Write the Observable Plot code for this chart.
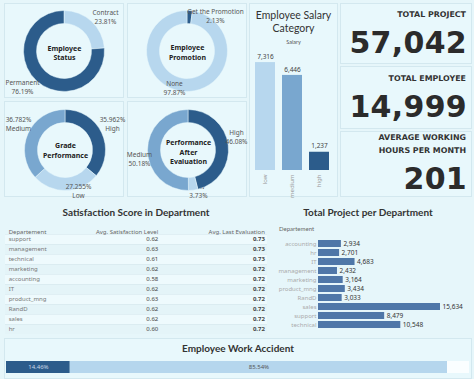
<!DOCTYPE html>
<html><head><meta charset="utf-8">
<script src="https://cdn.jsdelivr.net/npm/d3@7"></script>
<script src="https://cdn.jsdelivr.net/npm/@observablehq/plot@0.6"></script>
<style>
html,body{margin:0;padding:0;background:#e6f6fa;}
#root{position:relative;width:474px;height:379px;overflow:hidden;font-family:Lato,"Noto Sans",sans-serif;color:#333;background:#e6f6fa;}
#root svg{position:absolute;background:transparent;overflow:visible;}
</style></head><body><div id="root"></div>
<script>
// ---------- data ----------
const statusCats = ["Contract", "Permanent"];
const statusVals = [23.81, 76.19];
const promoCats = ["Get the Promotion", "None"];
const promoVals = [2.13, 97.87];
const gradeCats = ["High", "Low", "Medium"];
const gradeVals = [35.962, 27.255, 36.782];
const evalCats = ["High", "Low", "Medium"];
const evalVals = [46.08, 3.73, 50.18];
const salaryCats = ["low", "medium", "high"];
const salaryVals = [7316, 6446, 1237];
const kpiLabels = ["TOTAL PROJECT", "TOTAL EMPLOYEE", "AVERAGE WORKING\nHOURS PER MONTH"];
const kpiVals = [57042, 14999, 201];
const satDepts = ["support", "management", "technical", "marketing", "accounting", "IT", "product_mng", "RandD", "sales", "hr"];
const satLevel = [0.62, 0.63, 0.61, 0.62, 0.58, 0.62, 0.63, 0.62, 0.62, 0.60];
const lastEval = [0.73, 0.73, 0.73, 0.72, 0.72, 0.72, 0.72, 0.72, 0.72, 0.72];
const satHeaders = ["Departement", "Avg. Satisfaction Level", "Avg. Last Evaluation"];
const projDepts = ["accounting", "hr", "IT", "management", "marketing", "product_mng", "RandD", "sales", "support", "technical"];
const projVals = [2934, 2701, 4683, 2432, 3164, 3434, 3033, 15634, 8479, 10548];
const accidentCats = ["Accident", "No Accident"];
const accidentVals = [14.46, 85.54];

// ---------- helpers ----------
const root = document.getElementById("root");
const COL = {dark: "#2c5c8b", mid: "#79a7cf", light: "#b7d7ee", bar: "#4f77a8"};
function put(el, left, top) { el.style.left = left + "px"; el.style.top = top + "px"; root.appendChild(el); return el; }
function box(left, top, w, h, css = "") {
  const d = document.createElement("div");
  d.style.cssText = `position:absolute;left:${left}px;top:${top}px;width:${w}px;height:${h}px;box-sizing:border-box;border:1px solid #d3e8ef;background:#e8f8fc;` + css;
  root.appendChild(d); return d;
}
function label(text, css) {
  const d = document.createElement("div");
  d.textContent = text;
  d.style.cssText = "position:absolute;white-space:pre;" + css;
  root.appendChild(d); return d;
}

// ---------- panels ----------
box(4, 3, 120, 95); box(127, 3, 120, 95);
box(4, 101, 120, 96); box(127, 101, 120, 96);
box(249, 3, 89, 194);
box(340, 3, 132, 61); box(340, 66, 132, 63); box(340, 131, 132, 66);
box(4, 338, 468, 41);

// ---------- donuts ----------
function donut(cfg) {
  const data = cfg.cats.map((k, i) => ({k, v: cfg.vals[i], fill: cfg.fills[i]}));
  const ring = (index, scales, values, dims) => {
    const g = d3.create("svg:g").attr("transform", `translate(${cfg.cx},${cfg.cy})`);
    const arcs = d3.pie().sort(null).value(d => d.v)(data);
    const arc = d3.arc().innerRadius(27.5).outerRadius(40.5);
    g.selectAll("path").data(arcs).join("path")
      .attr("d", arc).attr("fill", d => d.data.fill)
      .attr("stroke", "#e8f8fc").attr("stroke-width", 0.5);
    return g.node();
  };
  const labs = cfg.labels.map(l => {
    const d = data[l.i];
    const pct = d.v.toFixed(cfg.dec) + "%";
    return {x: l.x, y: l.y, under: !!l.under, t: l.pctFirst ? pct + "\n" + d.k : d.k + "\n" + pct};
  });
  const opts = {x: "x", y: "y", text: "t", fontSize: 6.5, fill: "#555", lineHeight: 1.35, lineAnchor: "middle"};
  const svg = Plot.plot({
    width: 120, height: 95, margin: 0,
    x: {type: "identity", axis: null}, y: {type: "identity", axis: null},
    style: {background: "transparent"},
    marks: [
      Plot.text(labs.filter(d => d.under), opts),
      ring,
      Plot.text(labs.filter(d => !d.under), opts),
      Plot.text([cfg.title], {x: cfg.cx, y: cfg.tY, text: d => d, fontSize: 7, fontWeight: "bold", fill: "#222", lineHeight: 1.35, lineAnchor: "middle"})
    ]
  });
  put(svg, cfg.left, cfg.top);
}
donut({cats: statusCats, vals: statusVals, dec: 2, fills: [COL.light, COL.dark], title: "Employee\nStatus",
  left: 4, top: 3, cx: 60, cy: 48, tY: 49,
  labels: [{i: 0, x: 101, y: 13.5}, {i: 1, x: 18, y: 83.5}]});
donut({cats: promoCats, vals: promoVals, dec: 2, fills: [COL.dark, COL.light], title: "Employee\nPromotion",
  left: 127, top: 3, cx: 60, cy: 48, tY: 48.5,
  labels: [{i: 0, x: 88, y: 12.5}, {i: 1, x: 47, y: 84.5}]});
donut({cats: gradeCats, vals: gradeVals, dec: 3, fills: [COL.dark, COL.light, COL.mid], title: "Grade\nPerformance",
  left: 4, top: 101, cx: 61, cy: 49, tY: 48.5,
  labels: [{i: 0, x: 108, y: 22.5, pctFirst: true}, {i: 2, x: 14, y: 22.5, pctFirst: true}, {i: 1, x: 74, y: 89, pctFirst: true}]});
donut({cats: evalCats, vals: evalVals, dec: 2, fills: [COL.dark, COL.light, COL.mid], title: "Performance\nAfter\nEvaluation",
  left: 127, top: 101, cx: 61, cy: 49, tY: 50,
  labels: [{i: 0, x: 109, y: 35.5}, {i: 2, x: 12, y: 57}, {i: 1, x: 71, y: 89.5, under: true}]});

// ---------- salary ----------
label("Employee Salary\nCategory", "left:249px;width:89px;top:9px;text-align:center;font-size:10.5px;line-height:13px;color:#333;");
label("Salary", "left:249px;width:89px;top:39px;text-align:center;font-size:5.5px;color:#555;");
const salaryData = salaryCats.map((c, i) => ({c, v: salaryVals[i]}));
put(Plot.plot({
  width: 86, height: 157, marginLeft: 5, marginRight: 5, marginTop: 12, marginBottom: 27,
  style: {background: "transparent", fontSize: "6px"},
  x: {domain: salaryCats, paddingInner: 0.25, paddingOuter: 0, tickRotate: -90, tickSize: 0, tickPadding: 4, label: null},
  y: {domain: [0, 8000], axis: null},
  color: {domain: salaryCats, range: [COL.light, COL.mid, COL.dark]},
  marks: [
    Plot.barY(salaryData, {x: "c", y: "v", fill: "c"}),
    Plot.text(salaryData, {x: "c", y: "v", text: d => d3.format(",")(d.v), dy: -6, fontSize: 6.5, fill: "#444"})
  ]
}), 249, 40).querySelectorAll("[aria-label='x-axis tick label'] text").forEach(t => t.setAttribute("fill", "#999"));

// ---------- KPIs ----------
const kpiTops = [[9, 28], [73, 92], [132, 164]];
kpiLabels.forEach((l, i) => {
  label(l, `right:8px;top:${kpiTops[i][0]}px;text-align:right;font-family:'DejaVu Sans';font-weight:bold;font-size:7.9px;line-height:12.5px;color:#333;`);
  label(d3.format(",")(kpiVals[i]), `right:7px;top:${kpiTops[i][1]}px;text-align:right;font-family:'DejaVu Sans';font-weight:bold;font-size:30px;line-height:30px;color:#2b2b2b;letter-spacing:0.3px;`);
});

// ---------- satisfaction table ----------
label("Satisfaction Score in Department", "left:4px;width:264px;top:206px;text-align:center;font-weight:bold;font-size:10px;color:#333;");
const satData = satDepts.map((d, i) => ({d, s: satLevel[i], e: lastEval[i], i}));
const colX = [0.012, 0.583, 0.99];
put(Plot.plot({
  width: 262, height: 113, marginTop: 11, marginBottom: 0, marginLeft: 0, marginRight: 0,
  style: {background: "transparent"},
  x: {domain: [0, 1], axis: null},
  y: {domain: satDepts, type: "band", padding: 0, axis: null},
  marks: [
    Plot.barX(satData, {y: "d", x1: 0, x2: 1, fill: d => d.i % 2 ? "#e4f4f8" : "#eefafd"}),
    Plot.ruleY(satData, {y: "d", stroke: "#d3e4ea", strokeWidth: 0.5, dy: -5}),
    Plot.text([satHeaders[0]], {x: colX[0], frameAnchor: "top", dy: -4, text: d => d, textAnchor: "start", fontSize: 6, fill: "#666"}),
    Plot.text([satHeaders[1]], {x: colX[1], frameAnchor: "top", dy: -4, text: d => d, textAnchor: "end", fontSize: 6, fill: "#666"}),
    Plot.text([satHeaders[2]], {x: colX[2], frameAnchor: "top", dy: -4, text: d => d, textAnchor: "end", fontSize: 6, fill: "#666"}),
    Plot.text(satData, {y: "d", x: colX[0], text: "d", textAnchor: "start", fontSize: 6, fill: "#777"}),
    Plot.text(satData, {y: "d", x: colX[1], text: d => d.s.toFixed(2), textAnchor: "end", fontSize: 6, fill: "#444"}),
    Plot.text(satData, {y: "d", x: colX[2], text: d => d.e.toFixed(2), textAnchor: "end", fontSize: 6, fontWeight: "bold", fill: "#444"})
  ]
}), 5, 222);

// ---------- project per department ----------
label("Total Project per Department", "left:280px;width:176px;top:206px;text-align:center;font-weight:bold;font-size:10px;color:#333;");
label("Departement", "left:279px;top:225px;font-size:6px;color:#666;");
const projData = projDepts.map((d, i) => ({d, v: projVals[i]}));
const projSvg = put(Plot.plot({
  width: 234, height: 113, marginTop: 11, marginBottom: 0, marginLeft: 78, marginRight: 34,
  style: {background: "transparent", fontSize: "6px"},
  x: {domain: [0, d3.max(projVals)], axis: null},
  y: {type: "band", domain: projDepts, padding: 0.2, tickSize: 0, tickPadding: 2, label: null},
  marks: [
    Plot.barX(projData, {y: "d", x: "v", fill: COL.bar}),
    Plot.text(projData, {y: "d", x: "v", text: d => d3.format(",")(d.v), dx: 2, textAnchor: "start", fontSize: 6.5, fill: "#333"})
  ]
}), 240, 222);
projSvg.querySelectorAll("[aria-label='y-axis tick label'] text").forEach(t => t.setAttribute("fill", "#aaa"));

// ---------- work accident ----------
label("Employee Work Accident", "left:4px;width:468px;top:342px;text-align:center;font-weight:bold;font-size:10px;color:#333;");
label("", "left:447px;top:361px;width:22px;height:12px;background:#fafeff;");
const accData = accidentCats.map((k, i) => ({k, v: accidentVals[i]}));
put(Plot.plot({
  width: 441, height: 12, margin: 0,
  style: {background: "transparent"},
  x: {domain: [0, 100], axis: null},
  color: {domain: accidentCats, range: [COL.dark, "#b5d6ed"]},
  marks: [
    Plot.barX(accData, Plot.stackX({x: "v", fill: "k"})),
    Plot.text(accData, Plot.stackX({x: "v", text: d => d.v.toFixed(2) + "%", fontSize: 6, fill: d => d.k === "Accident" ? "#c9d7e6" : "#555"}))
  ]
}), 6, 361);
</script></body></html>
